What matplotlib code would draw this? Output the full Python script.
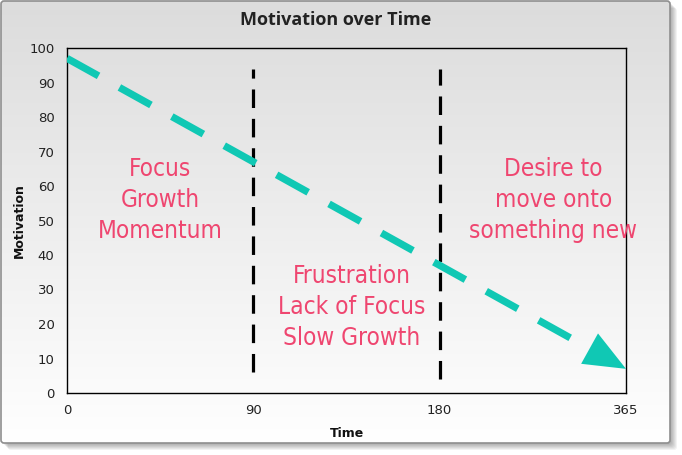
import numpy as np
import matplotlib.pyplot as plt
from matplotlib.colors import LinearSegmentedColormap
from matplotlib.patches import FancyBboxPatch, FancyArrowPatch, ArrowStyle

# Data
time_labels = ["0", "90", "180", "365"]          # x axis categories (equally spaced)
motivation_ticks = list(range(0, 101, 10))

trend_time_idx = [0, 3]        # dashed trend runs from first to last category
trend_values = [97, 7]

divider_idx = [1, 2]           # vertical dashed dividers at 90 and 180
divider_top = [94, 94]
divider_bottom = [6, 4]

phase_texts = ["Focus\nGrowth\nMomentum",
               "Frustration\nLack of Focus\nSlow Growth",
               "Desire to\nmove onto\nsomething new"]
phase_x = [0.50, 1.53, 2.61]
phase_y = [56, 25, 56]

teal = "#10c8b4"
pink = "#ef4670"

W, H = 682, 455
fig = plt.figure(figsize=(W / 100, H / 100), dpi=100, facecolor="white")

# background panel with shadow + gradient
bg = fig.add_axes([0, 0, 1, 1])
bg.set_xlim(0, W)
bg.set_ylim(H, 0)
bg.axis("off")
for off in range(1, 8):
    bg.add_patch(FancyBboxPatch((1 + off, 1 + off), 669, 442,
                                boxstyle="round,pad=0,rounding_size=3",
                                fc="black", ec="none", alpha=0.05))
panel = FancyBboxPatch((1, 1), 669, 442, boxstyle="round,pad=0,rounding_size=3",
                       fc="none", ec="#8f8f8f", lw=1.2, zorder=3)
grad = np.linspace(0, 1, 256).reshape(-1, 1)
im = bg.imshow(grad, cmap=LinearSegmentedColormap.from_list("g", ["#dcdcdc", "#ffffff"]),
               extent=(1, 670, 443, 1), aspect="auto", zorder=1)
bg.add_patch(panel)
im.set_clip_path(panel)
bg.set_xlim(0, W)
bg.set_ylim(H, 0)

fig.text(336 / W, 1 - 20 / H, "Motivation over Time", ha="center", va="center",
         fontsize=13, fontweight="bold", color="#222222", family="Open Sans")

ax = fig.add_axes([67 / W, 62 / H, 559 / W, 345 / H])
ax.set_facecolor("none")
ax.set_xlim(0, len(time_labels) - 1)
ax.set_ylim(0, 100)
ax.set_xticks(range(len(time_labels)))
ax.set_xticklabels(time_labels)
ax.set_yticks(motivation_ticks)
ax.tick_params(length=0, labelsize=9.5, colors="#222222")
ax.tick_params(axis="y", pad=9)
ax.tick_params(axis="x", pad=8)
for s in ax.spines.values():
    s.set_color("black")
    s.set_linewidth(1)

ax.set_ylabel("Motivation", fontsize=9, fontweight="bold", color="#111111")
ax.set_xlabel("Time", fontsize=9, fontweight="bold", color="#111111")
ax.yaxis.set_label_coords(-0.073, 0.5)
ax.xaxis.set_label_coords(0.5, -0.098)

# dividers
for i, top, bot in zip(divider_idx, divider_top, divider_bottom):
    ax.plot([i, i], [bot, top], color="black", lw=2.3, dashes=(5.8, 3.4),
            solid_capstyle="butt", dash_capstyle="butt")

# trend line with arrow head
x0, x1 = trend_time_idx
y0, y1 = trend_values
frac = 0.935
xs = x0 + (x1 - x0) * frac
ys = y0 + (y1 - y0) * frac
ax.plot([x0, xs], [y0, ys], color=teal, lw=5.2, dashes=(5.0, 3.3),
        dash_capstyle="butt", zorder=4)
head = FancyArrowPatch((x0 + (x1 - x0) * 0.9, y0 + (y1 - y0) * 0.9), (x1, y1),
                       arrowstyle=ArrowStyle("-|>", head_length=3.0, head_width=1.25),
                       mutation_scale=10, color=teal, lw=0, shrinkA=0, shrinkB=0,
                       zorder=5, clip_on=False)
ax.add_patch(head)

for t, x, y in zip(phase_texts, phase_x, phase_y):
    ax.text(x, y, t, ha="center", va="center", fontsize=17.5, color=pink,
            linespacing=1.38, family="DejaVu Sans", fontstretch="condensed",
            fontweight="light")

fig.savefig("out.png", dpi=100, facecolor="white")
